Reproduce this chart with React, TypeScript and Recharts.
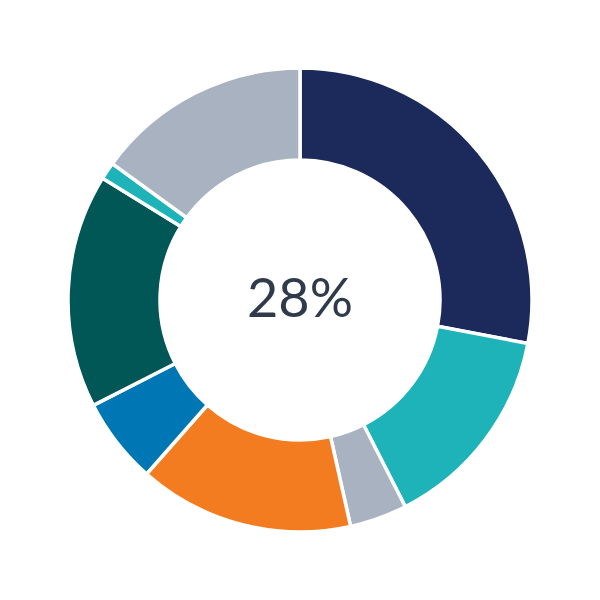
import React from 'react';
import { PieChart, Pie, Cell } from 'recharts';

const segments = ['A', 'B', 'C', 'D', 'E', 'F', 'G', 'H'];
const shares = [28, 14.5, 4, 15, 6, 16.3, 1.2, 15];
const colors = ['#1b2a5b', '#1db3b8', '#a8b2c0', '#f47c20', '#0077b5', '#015656', '#1db3b8', '#a8b2c0'];
const centerLabel = '28%';

const data = segments.map((name, i) => ({ name, value: shares[i] }));

export default function App() {
  return (
    <div style={{ position: 'absolute', left: 0, top: 0, width: 600, height: 600, background: '#fff' }}>
      <PieChart width={600} height={600} margin={{ top: 0, right: 0, bottom: 0, left: 0 }}>
        <Pie
          data={data}
          dataKey="value"
          nameKey="name"
          cx={300}
          cy={300}
          innerRadius={140}
          outerRadius={232}
          startAngle={90}
          endAngle={-270}
          stroke="#fff"
          strokeWidth={3.5}
          isAnimationActive={false}
        >
          {data.map((d, i) => (
            <Cell key={d.name} fill={colors[i]} />
          ))}
        </Pie>
        <text
          x={300}
          y={296}
          textAnchor="middle"
          dominantBaseline="central"
          fontFamily="Lato, sans-serif"
          fontSize={54}
          fill="#2f3b4b"
        >
          {centerLabel}
        </text>
      </PieChart>
    </div>
  );
}
